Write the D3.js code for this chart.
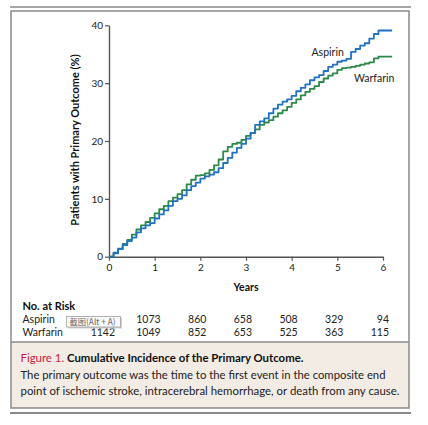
<!DOCTYPE html>
<html><head><meta charset="utf-8">
<script src="https://cdn.jsdelivr.net/npm/d3@7"></script>
<style>
html,body{margin:0;padding:0;background:#fff;}
svg{display:block;}
text{font-family:"Lato","Open Sans",sans-serif;}
</style></head>
<body>
<script>
// ---- data ----
const years = d3.range(0, 63).map(i => +(i * 0.1).toFixed(1));
const aspirin = [0,0.6,1.3,2.0,2.7,3.3,4.2,4.9,5.4,5.8,6.6,7.3,8.0,8.8,9.6,10.0,10.6,11.5,12.2,12.8,
 13.5,13.9,14.2,14.6,15.3,16.2,17.1,18.0,18.8,19.5,20.4,21.4,22.8,23.4,23.9,24.8,25.6,26.3,26.8,27.2,
 27.8,28.6,29.2,29.8,30.5,31.0,31.4,32.1,32.8,33.2,33.7,33.9,34.2,35.4,35.9,36.5,36.9,37.7,38.5,39.1,39.1,39.1,39.1];
const warfarin = [0,0.7,1.4,2.2,2.9,3.8,4.7,5.4,6.0,6.7,7.5,8.2,8.8,9.6,10.2,10.8,11.5,12.5,13.3,14.0,
 14.1,14.4,15.0,15.8,16.8,18.2,19.0,19.5,19.7,20.2,20.9,21.4,22.0,22.8,23.2,23.6,24.2,24.8,25.3,25.9,
 26.6,27.2,27.9,28.5,29.0,29.5,30.2,30.8,31.3,31.7,32.3,32.6,32.7,32.8,33.0,33.2,33.4,33.6,34.3,34.6,34.6,34.6,34.6];
const xTicks = [0,1,2,3,4,5,6];
const yTicks = [0,10,20,30,40];
const riskAspirin = [null,1073,860,658,508,329,94];
const riskWarfarin = [1142,1049,852,653,525,363,115];
const seriesNames = ["Aspirin","Warfarin"];
const colors = {Aspirin:"#1f72c4", Warfarin:"#2b8a48"};

const W = 428, H = 425;
const svg = d3.select("body").append("svg").attr("width", W).attr("height", H);

// frame
svg.append("line").attr("x1",10).attr("x2",411).attr("y1",7).attr("y2",7)
  .attr("stroke","#888").attr("stroke-width",1.5);
svg.append("rect").attr("x",11).attr("y",342).attr("width",398).attr("height",66).attr("fill","#f3ece5");
svg.append("rect").attr("x",11).attr("y",11).attr("width",398).attr("height",397)
  .attr("fill","none").attr("stroke","#8a8a8a").attr("stroke-width",1.5);
svg.append("line").attr("x1",11).attr("x2",409).attr("y1",342).attr("y2",342)
  .attr("stroke","#8a8a8a").attr("stroke-width",1.5);
svg.append("line").attr("x1",10).attr("x2",411).attr("y1",413).attr("y2",413)
  .attr("stroke","#888").attr("stroke-width",2);

// scales
const x = d3.scaleLinear().domain([0,6]).range([109,383]);
const y = d3.scaleLinear().domain([0,40]).range([256.7,25.3]);

// axes
const yAxis = svg.append("g").attr("transform","translate(109,0)")
  .call(d3.axisLeft(y).tickValues(yTicks).tickFormat(d3.format("d")).tickSize(4).tickPadding(2).tickSizeOuter(0));
const xAxis = svg.append("g").attr("transform","translate(0,256.7)")
  .call(d3.axisBottom(x).tickValues(xTicks).tickFormat(d3.format("d")).tickSize(4).tickPadding(3).tickSizeOuter(0));
[yAxis,xAxis].forEach(g=>{
  g.select(".domain").attr("stroke","#555").attr("stroke-width",1.4);
  g.selectAll(".tick line").attr("stroke","#555").attr("stroke-width",1.2);
  g.selectAll(".tick text").attr("fill","#222").style("font-size","10px").style("font-family","Lato, sans-serif");
});

// curves
const line = d3.line().x(d=>x(d[0])).y(d=>y(d[1])).curve(d3.curveStepAfter);
const dataBy = {Aspirin: aspirin, Warfarin: warfarin};
["Warfarin","Aspirin"].forEach(name=>{
  svg.append("path").datum(years.map((t,i)=>[t, dataBy[name][i]]))
    .attr("d", line).attr("fill","none").attr("stroke", colors[name]).attr("stroke-width",1.8)
    .attr("stroke-linejoin","round");
});

// series labels
svg.append("text").attr("x",311.5).attr("y",55.5).text("Aspirin").style("font-size","10.5px").attr("fill","#222");
svg.append("text").attr("x",354).attr("y",82).text("Warfarin").style("font-size","10.5px").attr("fill","#222");

// axis titles
svg.append("text").attr("transform","translate(78.5,140) rotate(-90)").attr("text-anchor","middle")
  .text("Patients with Primary Outcome (%)").style("font-size","11px").style("font-weight","bold").attr("fill","#111");
svg.append("text").attr("x",x(3)).attr("y",290.5).attr("text-anchor","middle")
  .text("Years").style("font-size","10.5px").style("font-weight","bold").attr("fill","#111");

// numbers at risk
svg.append("text").attr("x",22.5).attr("y",310).text("No. at Risk")
  .style("font-size","11px").style("font-weight","bold").attr("fill","#111");
const rows = [[riskAspirin,323],[riskWarfarin,335.5]];
rows.forEach((r,ri)=>{
  svg.append("text").attr("x",22.5).attr("y",r[1]).text(seriesNames[ri]).style("font-size","10.5px").attr("fill","#222");
  svg.selectAll(null).data(xTicks.filter((t,i)=>r[0][i]!=null)).enter().append("text")
    .attr("x",t=>x(t)+6).attr("y",r[1]).attr("text-anchor","end")
    .text(t=>r[0][xTicks.indexOf(t)]).style("font-size","10.5px").attr("fill","#222");
});

// screenshot tooltip overlay seen in the picture
svg.append("rect").attr("x",68).attr("y",318).attr("width",54).attr("height",10.5).attr("fill","#cfcfcf");
svg.append("rect").attr("x",66.5).attr("y",316.5).attr("width",54).attr("height",10.5)
  .attr("fill","#f9f9f9").attr("stroke","#a0a0a0").attr("stroke-width",0.8);
svg.append("text").attr("x",69.5).attr("y",325).text("截图(Alt + A)")
  .attr("textLength",46).attr("lengthAdjust","spacingAndGlyphs")
  .style("font-size","8.5px").style("font-family","'Noto Sans CJK SC', sans-serif").attr("fill","#666");

// caption
const cap = svg.append("text").attr("x",20.5).attr("y",361.5).style("font-size","12px")
  .attr("textLength",283).attr("lengthAdjust","spacingAndGlyphs");
cap.append("tspan").text("Figure 1. ").attr("fill","#c8203a");
cap.append("tspan").text("Cumulative Incidence of the Primary Outcome.").attr("fill","#111").style("font-weight","bold");
svg.append("text").attr("x",20.5).attr("y",379).style("font-size","11.5px").attr("fill","#222")
  .attr("textLength",365).attr("lengthAdjust","spacingAndGlyphs")
  .text("The primary outcome was the time to the first event in the composite end");
svg.append("text").attr("x",20.5).attr("y",394.5).style("font-size","11.5px").attr("fill","#222")
  .attr("textLength",379).attr("lengthAdjust","spacingAndGlyphs")
  .text("point of ischemic stroke, intracerebral hemorrhage, or death from any cause.");
</script>
</body></html>
